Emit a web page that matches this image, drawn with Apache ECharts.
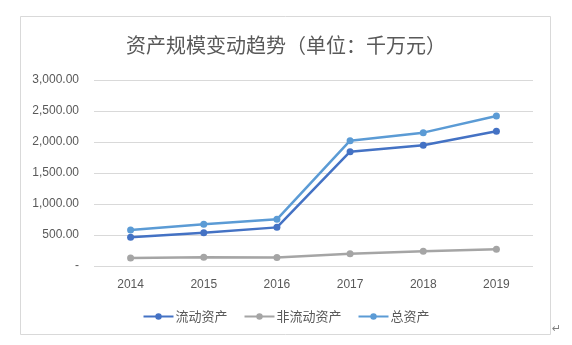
<!DOCTYPE html>
<html>
<head>
<meta charset="utf-8">
<script src="https://cdn.jsdelivr.net/npm/echarts@6/dist/echarts.min.js"></script>
<style>
  html, body { margin: 0; padding: 0; background: #fff; }
  #chart { width: 572px; height: 345px; }
</style>
</head>
<body>
<div id="chart"></div>
<script>
// Years on the category axis
const years = ['2014', '2015', '2016', '2017', '2018', '2019'];
// Asset values, in units of 10 million yuan
const currentAssets = [463, 537, 623, 1844, 1946, 2172];
const nonCurrentAssets = [129, 140, 136, 199, 237, 269];
const totalAssets = [580, 672, 753, 2021, 2151, 2419];
const seriesNames = ['流动资产', '非流动资产', '总资产'];
const chartTitle = '资产规模变动趋势（单位：千万元）';

const cjk = '"Noto Sans CJK SC", "Noto Sans", sans-serif';
const num = '"Liberation Sans", "DejaVu Sans", sans-serif';
const textGray = '#595959';

function fmtAccounting(v) {
  if (v === 0) return '-';
  return v.toLocaleString('en-US', { minimumFractionDigits: 2, maximumFractionDigits: 2 });
}

function lineSeries(name, data, color) {
  return {
    name: name,
    type: 'line',
    data: data,
    symbol: 'circle',
    symbolSize: 7,
    lineStyle: { width: 2.5, color: color },
    itemStyle: { color: color },
    emphasis: { disabled: true }
  };
}

const chart = echarts.init(document.getElementById('chart'), null, { renderer: 'canvas' });
chart.setOption({
  animation: false,
  backgroundColor: '#ffffff',
  title: {
    text: chartTitle,
    left: 'center',
    top: 30,
    textStyle: { fontFamily: cjk, fontSize: 20, fontWeight: 'normal', color: textGray }
  },
  graphic: [
    {
      type: 'rect',
      shape: { x: 20.5, y: 16.5, width: 530, height: 318 },
      style: { fill: 'none', stroke: '#d9d9d9', lineWidth: 1 },
      silent: true
    },
    {
      type: 'text',
      x: 552,
      y: 324,
      style: { text: '↵', fontSize: 11, fill: '#7f7f7f', fontFamily: '"DejaVu Sans", sans-serif' },
      silent: true
    }
  ],
  legend: {
    data: seriesNames,
    left: 'center',
    top: 305,
    itemWidth: 30,
    itemHeight: 8,
    itemGap: 16,
    textStyle: { fontFamily: cjk, fontSize: 13, color: textGray, padding: [0, 0, 0, -3] }
  },
  grid: { left: 94, right: 39, top: 80, bottom: 79, containLabel: false },
  xAxis: {
    type: 'category',
    data: years,
    boundaryGap: true,
    axisLine: { show: false },
    axisTick: { show: false },
    axisLabel: { margin: 13, fontFamily: num, fontSize: 12, color: textGray }
  },
  yAxis: {
    type: 'value',
    min: 0,
    max: 3000,
    interval: 500,
    axisLine: { show: false },
    axisTick: { show: false },
    splitLine: { lineStyle: { color: '#d9d9d9', width: 1 } },
    axisLabel: {
      margin: 15,
      fontFamily: num,
      fontSize: 12,
      color: textGray,
      formatter: fmtAccounting
    }
  },
  series: [
    lineSeries(seriesNames[0], currentAssets, '#4472C4'),
    lineSeries(seriesNames[1], nonCurrentAssets, '#A5A5A5'),
    lineSeries(seriesNames[2], totalAssets, '#5B9BD5')
  ]
});
</script>
</body>
</html>
